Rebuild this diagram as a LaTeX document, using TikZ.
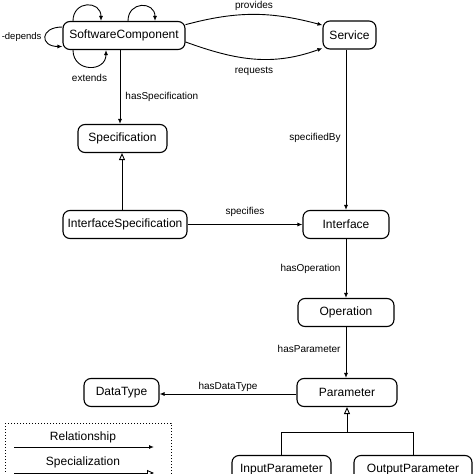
\documentclass[tikz,border=0pt]{standalone}
\usepackage{fontspec}
\setmainfont{Liberation Sans}
\usetikzlibrary{arrows.meta}

\tikzset{
  cls/.style={draw,rounded corners=7pt,line width=1.1pt,minimum height=28pt,inner sep=0,font=\fontsize{12}{14}\selectfont},
  rel/.style={line width=0.9pt,-{Latex[length=5pt,width=4pt]}},
  spec/.style={line width=0.9pt,-{Triangle[open,length=7pt,width=6pt]}},
  lbl/.style={font=\fontsize{10}{12}\selectfont,inner sep=1pt},
  lgd/.style={font=\fontsize{12}{14}\selectfont,inner sep=1pt}
}

\begin{document}
\begin{tikzpicture}[x=1pt,y=1pt]
\useasboundingbox (0,0) rectangle (474,-474);
\clip (0,0) rectangle (474,-474);

\node[cls,minimum width=122pt] (SC) at (124,-35.5) {SoftwareComponent};
\node[cls,minimum width=53pt] (SRV) at (349.5,-35) {Service};
\node[cls,minimum width=89pt] (SPEC) at (122.5,-138.5) {Specification};
\node[cls,minimum width=124pt] (ISPEC) at (125,-224.5) {InterfaceSpecification};
\node[cls,minimum width=86pt] (IF) at (346,-224.5) {Interface};
\node[cls,minimum width=96pt] (OP) at (346,-312.5) {Operation};
\node[cls,minimum width=100pt] (PAR) at (347,-392.5) {Parameter};
\node[cls,minimum width=75pt] (DT) at (121.5,-392.5) {DataType};
\node[cls,minimum width=99pt] (IPAR) at (281.5,-469.5) {InputParameter};
\node[cls,minimum width=118pt] (OPAR) at (413,-469.5) {OutputParameter};

% loops on SoftwareComponent
\draw[rel] ([xshift=-51pt]SC.north) to[out=90,in=90,looseness=1.9] ([xshift=-23pt]SC.north);
\draw[rel] ([xshift=4pt]SC.north) to[out=90,in=90,looseness=1.9] ([xshift=31pt]SC.north);
\draw[rel] ([yshift=8.5pt]SC.west) to[out=180,in=180,looseness=3] node[lbl,left=2.5pt,font=\fontsize{9.5}{11}\selectfont] {-depends} ([yshift=-11pt]SC.west);
\draw[rel] ([xshift=-51pt]SC.south) to[out=-90,in=-90,looseness=1.75] node[lbl,below=6pt] {extends} ([xshift=-18pt]SC.south);

\draw[rel] (SC.10) to[out=15,in=165] node[lbl,above=2.5pt] {provides} (SRV.160);
\draw[rel] (SC.-6) to[out=-20,in=200] node[lbl,below=7pt] {requests} (SRV.206);
\draw[rel] ([xshift=-4pt]SC.south) -- node[lbl,right=4pt,pos=0.64] {hasSpecification} ([xshift=-2.5pt]SPEC.north);
\draw[spec] ([xshift=-3pt]ISPEC.north) -- ([xshift=-0.5pt]SPEC.south);
\draw[rel] ([xshift=-3.5pt]SRV.south) -- node[lbl,left=4pt,pos=0.55] {specifiedBy} (IF.north);
\draw[rel] (ISPEC) -- node[lbl,above=6pt] {specifies} (IF);
\draw[rel] (IF) -- node[lbl,left=4pt] {hasOperation} (OP);
\draw[rel] (OP.south) -- node[lbl,left=4pt,pos=0.43] {hasParameter} (OP.south |- PAR.north);
\draw[rel] ([yshift=-1.5pt]PAR.west) -- node[lbl,above=1pt] {hasDataType} ([yshift=-1.5pt]DT.east);

% parameter kinds
\coordinate (PJ) at ([yshift=-25pt]PAR.south);
\draw[line width=0.9pt] (IPAR.north) |- (PJ) -| (OPAR.north);
\draw[spec] (PJ) -- (PAR.south);

% legend
\draw[dotted,line width=1pt] (5,-423) rectangle (171,-490);
\node[lgd] (RELT) at (83,-437) {Relationship};
\coordinate (RELA) at (14,-447);
\coordinate (RELB) at (154,-447);
\draw[rel] (RELA) -- (RELB);
\node[lgd] (SPLT) at (83,-462.5) {Specialization};
\coordinate (SPLA) at (14,-473);
\coordinate (SPLB) at (154,-473);
\draw[spec] (SPLA) -- (SPLB);
\end{tikzpicture}
\end{document}
